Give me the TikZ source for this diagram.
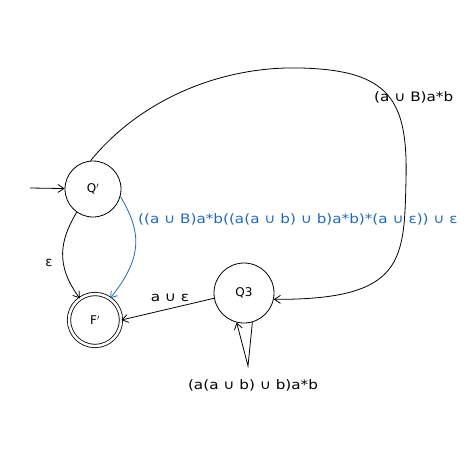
\documentclass[tikz,border=0pt]{standalone}
\usepackage{fontspec}
\setmainfont{DejaVu Sans}
\usetikzlibrary{arrows.meta}
\definecolor{blueedge}{RGB}{35,105,180}
\newcommand{\widetxt}[1]{\scalebox{1.17}[1]{#1}}
\begin{document}
\begin{tikzpicture}[x=1pt,y=-1pt,
  state/.style={circle,draw,line width=0.8pt,minimum size=56pt,inner sep=0pt,font=\fontsize{12}{14}\selectfont},
  acc/.style={state,double,double distance=2.5pt},
  edge/.style={line width=0.8pt,-{Straight Barb[length=6pt,width=8pt]}},
  lbl/.style={font=\fontsize{13}{15}\selectfont,inner sep=1pt}]
\useasboundingbox (0,0) rectangle (474,474);
\node[state] (Qp) at (93,189) {Q$'$};
\node[acc,minimum size=52pt] (F) at (95,320) {F$'$};
\node[state,minimum size=60pt] (Q3) at (244,293) {Q3};
\coordinate (start) at (30,188);
\coordinate (loopb) at (248,366);
% entry
\draw[edge] (start) -- (Qp);
% epsilon
\draw[edge] (Qp.235) .. controls (60,240) and (55,265) .. (F.125);
\node[lbl] (le) at (49,263) {ε};
% blue
\draw[edge,blueedge] (Qp.-15) .. controls (140,230) and (145,255) .. (F.55);
\node[lbl,text=blueedge,anchor=west] (lb) at (137,219) {\widetxt{((a ∪ B)a*b((a(a ∪ b) ∪ b)a*b)*(a ∪ ε)) ∪ ε}};
% Q3 -> F
\draw[edge] (Q3.190) -- (F.east);
\node[lbl] (la) at (170,298) {\widetxt{a ∪ ε}};
% big loop
\draw[edge] (Qp.95) .. controls (140,100) and (220,66) .. (300,68)
  .. controls (390,70) and (408,100) .. (406,180)
  .. controls (404,260) and (405,300) .. (Q3.-12);
\node[lbl,anchor=west] (lt) at (373,97) {\widetxt{(a ∪ B)a*b}};
% self loop
\draw[edge] (Q3.-74) -- (loopb) -- (Q3.-104);
\node[lbl] (ll) at (253,385) {\widetxt{(a(a ∪ b) ∪ b)a*b}};
\end{tikzpicture}
\end{document}
